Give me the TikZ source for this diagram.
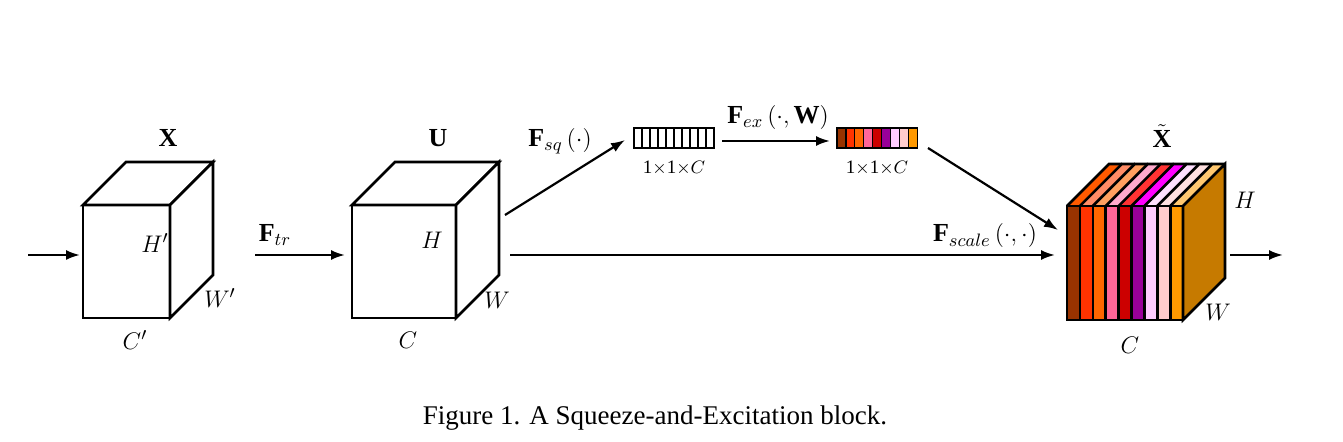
\documentclass[tikz,border=0pt]{standalone}
\usepackage{fontspec}
\setmainfont{Liberation Serif}
\usepackage{amsmath}
\usetikzlibrary{arrows.meta}
\tikzset{arr/.style={-{Latex[length=7pt,width=5pt]}, line width=1.1pt},
cube/.style={line width=1.3pt, fill=white},
lab/.style={font=\fontsize{13}{15}\selectfont, inner sep=0pt}}
\definecolor{s1}{HTML}{993300}\definecolor{s2}{HTML}{FF3300}\definecolor{s3}{HTML}{FF6600}
\definecolor{s4}{HTML}{FF6699}\definecolor{s5}{HTML}{CC0000}\definecolor{s6}{HTML}{990099}
\definecolor{s7}{HTML}{FFCCFF}\definecolor{s8}{HTML}{FFCCCC}\definecolor{s9}{HTML}{FF9900}
\definecolor{t1}{HTML}{FF5A00}\definecolor{t2}{HTML}{FF8C66}\definecolor{t3}{HTML}{FFA060}
\definecolor{t4}{HTML}{FFAACC}\definecolor{t5}{HTML}{FF3333}\definecolor{t6}{HTML}{FF00FF}
\definecolor{t7}{HTML}{FFE0FF}\definecolor{t8}{HTML}{FFE0E0}\definecolor{t9}{HTML}{FFC870}
\definecolor{side}{HTML}{C67A00}
\begin{document}
\begin{tikzpicture}[x=0.5pt,y=-0.5pt]
\useasboundingbox (0,0) rectangle (1343,442);

% cube X
\draw[cube] (83,205) rectangle (170,318);
\draw[cube] (83,205) -- (126,162) -- (213,162) -- (170,205) -- cycle;
\draw[cube] (170,205) -- (213,162) -- (213,275) -- (170,318) -- cycle;
% cube U
\draw[cube] (352,205) rectangle (456,318);
\draw[cube] (352,205) -- (395,162) -- (499,162) -- (456,205) -- cycle;
\draw[cube] (456,205) -- (499,162) -- (499,275) -- (456,318) -- cycle;
% cube X tilde
\foreach \i in {1,...,9}{
  \pgfmathsetmacro\xa{1067+(\i-1)*12.9}
  \pgfmathsetmacro\xb{1067+\i*12.9}
  \fill[s\i] (\xa,206) rectangle (\xb,320);
  \fill[t\i] (\xa,206) -- (\xa+42,164) -- (\xb+42,164) -- (\xb,206) -- cycle;
  \draw[line width=1.3pt] (\xa,206) rectangle (\xb,320);
  \draw[line width=1.3pt] (\xa,206) -- (\xa+42,164) -- (\xb+42,164);
}
\draw[line width=1.3pt, fill=side] (1183,206) -- (1225,164) -- (1225,278) -- (1183,320) -- cycle;

% vectors
\foreach \i in {1,...,10}
  \draw[line width=0.6pt] (634+\i*8-8,128) rectangle (634+\i*8,148);
\foreach \i in {1,...,9}
  \draw[line width=0.6pt, fill=s\i] (837+\i*8.9-8.9,128) rectangle (837+\i*8.9,148);

% labels
\node[lab] (X) at (168,138) {$\mathbf{X}$};
\node[lab] (U) at (438,138) {$\mathbf{U}$};
\node[lab] (Xt) at (1162,136) {$\tilde{\mathbf{X}}$};
\node[lab] (h1) at (155,243) {$H'$};
\node[lab] (w1) at (220,298) {$W'$};
\node[lab] (c1) at (135,340) {$C'$};
\node[lab] (h2) at (432,240) {$H$};
\node[lab] (w2) at (497,300) {$W$};
\node[lab] (c2) at (408,340) {$C$};
\node[lab] (h3) at (1245,200) {$H$};
\node[lab] (w3) at (1218,312) {$W$};
\node[lab] (c3) at (1130,345) {$C$};
\node[lab] (ftr) at (275,235) {$\mathbf{F}_{tr}$};
\node[lab] (fsq) at (560,141) {$\mathbf{F}_{sq}\,(\cdot)$};
\node[lab] (fex) at (778,118) {$\mathbf{F}_{ex}\,(\cdot,\mathbf{W})$};
\node[lab] (fsc) at (985,236) {$\mathbf{F}_{scale}\,(\cdot,\cdot)$};
\node[lab, font=\fontsize{9.5}{11}\selectfont] (d1) at (674,168) {1$\times$1$\times$$C$};
\node[lab, font=\fontsize{9.5}{11}\selectfont] (d2) at (877,168) {1$\times$1$\times$$C$};
\node[lab, font=\fontsize{13.5}{15}\selectfont] (cap) at (655,418) {Figure 1. A Squeeze-and-Excitation block.};

% connectors
\coordinate (in) at (28,255); \coordinate (inE) at (80,255);
\coordinate (xO) at (255,255); \coordinate (uI) at (345,255);
\coordinate (uO) at (510,255); \coordinate (sI) at (1055,255);
\coordinate (uS) at (505,215); \coordinate (vI) at (625,140);
\coordinate (vO) at (722,141); \coordinate (wI) at (830,141);
\coordinate (wO) at (928,148); \coordinate (sT) at (1058,230);
\coordinate (sO) at (1230,255); \coordinate (out) at (1283,255);
\draw[arr] (in) -- (inE);
\draw[arr] (xO) -- (uI);
\draw[arr] (uO) -- (sI);
\draw[arr] (uS) -- (vI);
\draw[arr] (vO) -- (wI);
\draw[arr] (wO) -- (sT);
\draw[arr] (sO) -- (out);
\end{tikzpicture}
\end{document}
